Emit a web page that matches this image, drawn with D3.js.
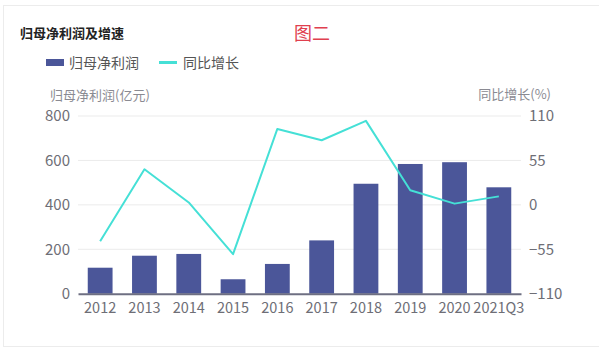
<!DOCTYPE html>
<html>
<head>
<meta charset="utf-8">
<script src="https://cdn.jsdelivr.net/npm/d3@7"></script>
<style>
  html, body { margin: 0; padding: 0; background: #fff; }
  svg { display: block; font-family: "Noto Sans CJK SC", "Noto Sans", sans-serif; }
</style>
</head>
<body>
<svg id="chart" width="599" height="349"></svg>
<script>
// Net profit attributable to parent (100M yuan) and YoY growth (%)
const categories = ["2012", "2013", "2014", "2015", "2016", "2017", "2018", "2019", "2020", "2021Q3"];
const profit = [117, 171, 179, 65, 134, 240, 495, 584, 592, 479];
const growth = [-45, 44, 3, -61, 94, 80, 104, 18, 1.5, 10.5];
const leftTicks = [0, 200, 400, 600, 800];
const rightTicks = [-110, -55, 0, 55, 110];

const svg = d3.select("#chart");
const margin = { left: 78, right: 521, top: 116, bottom: 293.7 };

// card frame
svg.append("rect").attr("x", 3.5).attr("y", 5.5).attr("width", 620).attr("height", 341)
  .attr("fill", "none").attr("stroke", "#ececec").attr("stroke-width", 1);

const x = d3.scaleBand().domain(categories).range([margin.left, margin.right]).paddingInner(0.44).paddingOuter(0.22);
const yL = d3.scaleLinear().domain([0, 800]).range([margin.bottom, margin.top]);
const yR = d3.scaleLinear().domain([-110, 110]).range([margin.bottom, margin.top]);

// grid lines
svg.append("g").selectAll("line").data(leftTicks.slice(1)).join("line")
  .attr("x1", margin.left).attr("x2", margin.right)
  .attr("y1", d => yL(d)).attr("y2", d => yL(d))
  .attr("stroke", "#ebebeb").attr("stroke-width", 1);

// left axis labels
const leftAxis = d3.axisLeft(yL).tickValues(leftTicks).tickSize(0).tickPadding(8);
const gL = svg.append("g").attr("transform", `translate(${margin.left},0)`).call(leftAxis);
gL.select(".domain").remove();
gL.selectAll("text").attr("font-size", 15).attr("fill", "#6e6e76").attr("font-family", "'Noto Sans CJK SC', sans-serif");

// right axis labels
const rightAxis = d3.axisRight(yR).tickValues(rightTicks).tickSize(0).tickPadding(8);
const gR = svg.append("g").attr("transform", `translate(${margin.right},0)`).call(rightAxis);
gR.select(".domain").remove();
gR.selectAll("text").attr("font-size", 15).attr("fill", "#6e6e76").attr("font-family", "'Noto Sans CJK SC', sans-serif");

// bars
svg.append("g").selectAll("rect").data(categories).join("rect")
  .attr("x", d => x(d))
  .attr("width", x.bandwidth())
  .attr("y", (d, i) => yL(profit[i]))
  .attr("height", (d, i) => yL(0) - yL(profit[i]))
  .attr("fill", "#4b5699");

// bottom axis
const bottomAxis = d3.axisBottom(x).tickSize(0).tickPadding(9);
const gB = svg.append("g").attr("transform", `translate(0,${margin.bottom})`).call(bottomAxis);
gB.select(".domain").attr("stroke", "#6e6f82").attr("stroke-width", 2);
gB.selectAll("text").attr("font-size", 14.5).attr("fill", "#6e6e76").attr("font-family", "'Noto Sans CJK SC', sans-serif");

// growth line
const line = d3.line()
  .x((d, i) => x(categories[i]) + x.bandwidth() / 2)
  .y(d => yR(d));
svg.append("path").datum(growth).attr("d", line)
  .attr("fill", "none").attr("stroke", "#45e0d6").attr("stroke-width", 2).attr("stroke-linejoin", "round");

// axis titles
svg.append("text").attr("x", 50).attr("y", 100).text("归母净利润(亿元)")
  .attr("font-size", 13).attr("fill", "#8a8a92");
svg.append("text").attr("x", 551).attr("y", 99).attr("text-anchor", "end").text("同比增长(%)")
  .attr("font-size", 13).attr("fill", "#8a8a92");

// title
svg.append("text").attr("x", 20).attr("y", 38).text("归母净利润及增速")
  .attr("font-size", 13).attr("font-weight", "bold").attr("fill", "#222");
svg.append("text").attr("x", 294).attr("y", 40).text("图二")
  .attr("font-size", 18).attr("fill", "#e0404f");

// legend
const legend = svg.append("g");
legend.append("rect").attr("x", 46).attr("y", 59).attr("width", 18).attr("height", 7).attr("fill", "#4b5699");
legend.append("text").attr("x", 69).attr("y", 67.5).text("归母净利润").attr("font-size", 14).attr("fill", "#555");
legend.append("line").attr("x1", 159).attr("x2", 177).attr("y1", 62.5).attr("y2", 62.5)
  .attr("stroke", "#45e0d6").attr("stroke-width", 3);
legend.append("text").attr("x", 183).attr("y", 67.5).text("同比增长").attr("font-size", 14).attr("fill", "#555");
</script>
</body>
</html>
